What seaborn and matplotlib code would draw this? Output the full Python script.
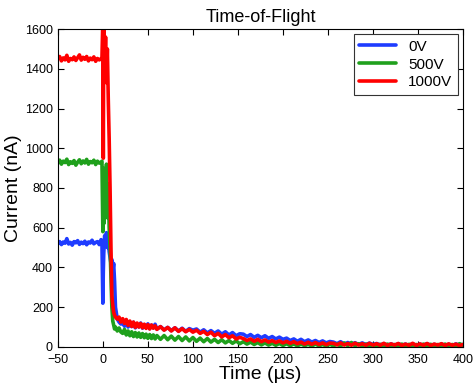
import pandas as pd
import seaborn as sns
import matplotlib.pyplot as plt

# time axis (us), shared by all three traces
time_us = [-50, -48, -46, -44, -42, -40, -38, -36, -34, -32, -30, -28, -26, -24, -22,
           -20, -18, -16, -14, -12, -10, -8, -6, -4, -2,
           -1, 0, 0.5, 1, 2, 3, 4, 5, 6, 7, 8, 9, 10, 11, 12, 13, 14, 16, 18, 20,
           22, 24, 26, 28, 30, 32, 34, 36, 38, 40, 42, 44, 46, 48, 50, 52, 54, 56, 58, 60,
           64, 68, 72, 76, 80, 84, 88, 92, 96, 100,
           104, 108, 112, 116, 120, 124, 128, 132, 136, 140, 144, 148, 152,
           156, 160, 164, 168, 172, 176, 180, 184, 188, 192, 196, 200,
           204, 208, 212, 216, 220, 224, 228, 232, 236, 240, 244, 248, 252,
           256, 260, 264, 268, 272, 276, 280, 284, 288, 292, 296, 300,
           304, 308, 312, 316, 320, 324, 328, 332, 336, 340, 344, 348, 352,
           356, 360, 364, 368, 372, 376, 380, 384, 388, 392, 396, 400]

# current (nA)
current_0v = [520, 530, 515, 528, 522, 545, 518, 526, 512, 530, 524, 535, 516, 527, 520,
              532, 514, 528, 523, 537, 519, 526, 530, 515, 540,
              520, 220, 380, 470, 560, 510, 575, 500, 540, 480, 450, 420, 440, 380, 420, 330, 200, 140, 125, 115,
              120, 104, 128, 100, 118, 102, 124, 96, 114, 100, 120, 94, 112, 98, 116, 92, 110, 96, 114, 90,
              102, 86, 98, 82, 96, 80, 94, 78, 92, 84,
              90, 74, 86, 70, 82, 68, 80, 64, 76, 60, 72, 56, 66,
              64, 52, 62, 48, 58, 46, 56, 43, 52, 40, 49, 38,
              44, 32, 40, 28, 38, 26, 35, 24, 32, 22, 30, 20, 27,
              24, 16, 26, 14, 22, 13, 21, 12, 20, 11, 19, 12,
              17, 9, 16, 8, 15, 7, 16, 8, 14, 6, 15, 7, 14,
              8, 16, 7, 13, 6, 14, 7, 13, 6, 15, 7, 12]

current_500v = [925, 940, 920, 935, 928, 945, 918, 932, 924, 938, 915, 930, 942, 922, 936,
                926, 944, 920, 933, 927, 940, 918, 935, 925, 930,
                935, 580, 900, 620, 880, 700, 920, 650, 820, 600, 500, 350, 200, 130, 110, 90, 100, 80, 95, 75,
                68, 88, 60, 80, 56, 76, 52, 72, 50, 70, 48, 67, 46, 64, 43, 62, 42, 60, 40, 57,
                38, 57, 36, 54, 34, 52, 32, 50, 30, 47,
                28, 44, 26, 42, 24, 38, 22, 36, 20, 32, 18, 30, 16,
                26, 14, 24, 12, 22, 10, 20, 9, 18, 8, 17, 7,
                16, 6, 15, 5, 14, 6, 13, 4, 14, 5, 12, 4, 13,
                5, 14, 4, 20, 6, 22, 5, 16, 4, 14, 3, 12,
                4, 13, 3, 14, 5, 12, 3, 14, 4, 13, 3, 12, 4,
                14, 3, 13, 4, 12, 3, 14, 4, 12, 3, 16, 8]

current_1000v = [1450, 1462, 1440, 1455, 1445, 1468, 1438, 1452, 1446, 1460, 1442, 1456, 1470, 1444, 1458,
                 1448, 1462, 1440, 1454, 1446, 1460, 1438, 1452, 1445, 1450,
                 1455, 1650, 950, 1620, 1400, 1560, 1330, 1500, 1250, 1050, 800, 500, 260, 210, 175, 160, 150, 140, 150, 125,
                 142, 118, 138, 108, 130, 103, 125, 98, 120, 100, 118, 96, 114, 93, 112, 90, 110, 94, 106, 88,
                 102, 84, 98, 80, 96, 78, 92, 76, 88, 74,
                 84, 68, 78, 62, 74, 56, 68, 50, 62, 46, 56, 40, 48,
                 42, 32, 40, 28, 38, 26, 35, 24, 32, 22, 30, 20,
                 28, 18, 26, 16, 24, 14, 23, 13, 22, 12, 20, 11, 19,
                 18, 10, 20, 9, 17, 8, 19, 9, 16, 8, 18, 9,
                 16, 8, 18, 7, 15, 9, 17, 7, 14, 8, 18, 7, 15,
                 8, 17, 7, 14, 9, 16, 7, 15, 8, 14, 7, 12]

series_names = ['0V', '500V', '1000V']
series_colors = ['#1e3cff', '#1fa01c', '#ff0000']

# long form table for seaborn
frames = []
for name, vals in zip(series_names, [current_0v, current_500v, current_1000v]):
    frames.append(pd.DataFrame({'time': time_us, 'current': vals, 'bias': name}))
data = pd.concat(frames, ignore_index=True)

sns.set_style('ticks')
plt.rcParams['font.family'] = ['Liberation Sans', 'DejaVu Sans']
plt.rcParams['xtick.direction'] = 'in'
plt.rcParams['ytick.direction'] = 'in'
plt.rcParams['xtick.top'] = True
plt.rcParams['ytick.right'] = True
plt.rcParams['text.color'] = 'black'
plt.rcParams['axes.labelcolor'] = 'black'
plt.rcParams['xtick.color'] = 'black'
plt.rcParams['ytick.color'] = 'black'

fig = plt.figure(figsize=(4.74, 3.88), dpi=100)
ax = fig.add_axes([0.122, 0.106, 0.855, 0.819])

sns.lineplot(data=data, x='time', y='current', hue='bias', palette=series_colors,
             hue_order=series_names, estimator=None, sort=False, linewidth=2.6, ax=ax)

ax.set_xlim(-50, 400)
ax.set_ylim(0, 1600)
ax.set_xticks(range(-50, 401, 50))
ax.set_yticks(range(0, 1601, 200))
ax.tick_params(labelsize=9, length=4, width=0.8, color='black')
ax.tick_params(axis='x', pad=5)
for s in ax.spines.values():
    s.set_linewidth(0.8)
    s.set_color('black')

ax.set_title('Time-of-Flight', fontsize=13, pad=5, color='black')
ax.set_xlabel('Time (µs)', fontsize=14, labelpad=0)
ax.set_ylabel('Current (nA)', fontsize=14, labelpad=2)

leg = ax.legend(loc='upper right', fontsize=11, frameon=True, fancybox=False,
                framealpha=1, edgecolor='#333333', borderaxespad=0.35,
                handlelength=2.4, labelspacing=0.25, borderpad=0.35)
leg.get_frame().set_linewidth(0.8)

fig.savefig('out.png', dpi=100)
